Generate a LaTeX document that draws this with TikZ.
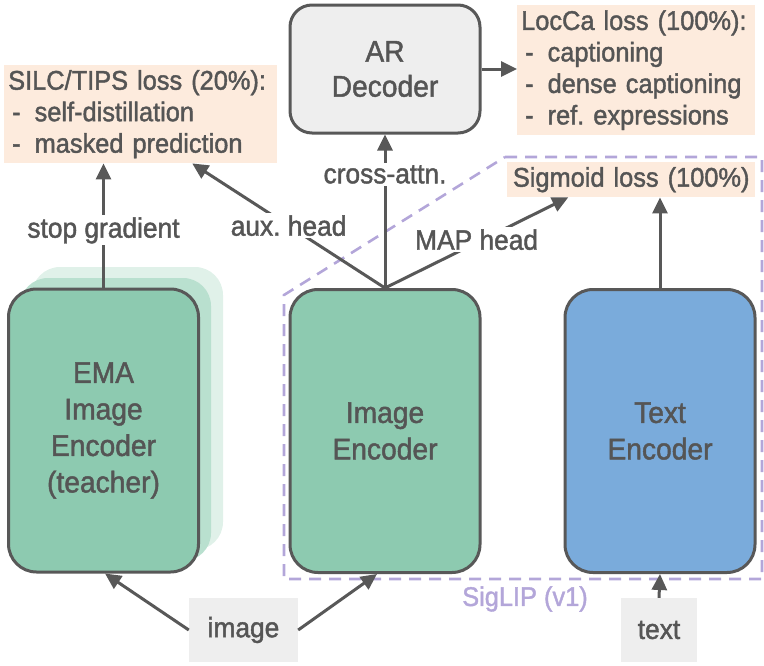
\documentclass[tikz,border=0pt]{standalone}
\usepackage{fontspec}
\setmainfont[FakeBold=1.5,FakeStretch=0.94]{Liberation Sans}
\usetikzlibrary{arrows.meta,calc}
\definecolor{txtgray}{HTML}{555555}
\definecolor{linegray}{HTML}{585858}
\definecolor{encgreen}{HTML}{8DCAB0}
\definecolor{shadeA}{HTML}{B9E0CF}
\definecolor{shadeB}{HTML}{E0F1E9}
\definecolor{encblue}{HTML}{7AABDB}
\definecolor{boxgray}{HTML}{EEEEEE}
\definecolor{peach}{HTML}{FDEBDD}
\definecolor{lav}{HTML}{B3A6D9}
\tikzset{
  encbox/.style={draw=linegray, line width=3pt, rounded corners=28pt, minimum width=190pt, minimum height=283pt, align=center, text=txtgray, font=\fontsize{30}{36.5}\selectfont, inner sep=0pt},
  lossbox/.style={fill=peach, text=txtgray, align=left, inner xsep=4pt, inner ysep=0pt, anchor=north west, font=\fontsize{27}{31.5}\selectfont},
  inbox/.style={fill=boxgray, text=txtgray, font=\fontsize{28}{30}\selectfont, inner sep=0pt},
  lbl/.style={fill=white, text=txtgray, font=\fontsize{28}{30}\selectfont, inner xsep=2pt, inner ysep=2pt},
  arr/.style={draw=linegray, line width=3pt, -{Triangle[length=16pt,width=15pt]}},
}
\begin{document}
\frenchspacing
\begin{tikzpicture}[x=1pt,y=-1pt]
\useasboundingbox (0,0) rectangle (764,665);
% shadow layers of EMA encoder
\fill[shadeB, rounded corners=28pt] (32,267) rectangle (223,550);
\fill[shadeA, rounded corners=28pt] (20,278) rectangle (211,561);
% SigLIP region
\draw[lav, line width=2.6pt, dash pattern=on 12pt off 8pt] (505,157) -- (762,157) -- (762,579) -- (284,579) -- (284,295) -- cycle;
\node[lav, font=\fontsize{27}{30}\selectfont] (siglip) at (525,599) {SigLIP (v1)};
% encoders
\node[encbox, fill=encgreen] (EMA) at (103.5,430.5) {EMA\\Image\\Encoder\\(teacher)};
\node[encbox, fill=encgreen] (ImgEnc) at (385,431) {Image\\Encoder};
\node[encbox, fill=encblue] (TxtEnc) at (660,431) {Text\\Encoder};
% decoder
\node[draw=linegray, line width=3pt, fill=boxgray, rounded corners=22pt, minimum width=190pt, minimum height=128pt, align=center, text=txtgray, font=\fontsize{30}{35}\selectfont, inner sep=0pt] (AR) at (385,69) {AR\\Decoder};
% loss boxes
\node[lossbox, minimum width=273pt, minimum height=98pt, text width=265pt] (SILC) at (4,65) {SILC/TIPS loss (20\%):\\\hspace*{4pt}-\hspace{14pt}self-distillation\\\hspace*{4pt}-\hspace{14pt}masked prediction};
\node[lossbox, minimum width=238pt, minimum height=130pt, text width=230pt] (LocCa) at (517,5) {LocCa loss (100\%):\\\hspace*{4pt}-\hspace{14pt}captioning\\\hspace*{4pt}-\hspace{14pt}dense captioning\\\hspace*{4pt}-\hspace{14pt}ref. expressions};
\node[lossbox, minimum width=248pt, minimum height=35pt, text width=240pt, align=center] (Sigmoid) at (507,162) {Sigmoid loss (100\%)};
% inputs
\node[inbox, minimum width=109pt, minimum height=64pt] (image) at (243.5,630) {image};
\node[inbox, minimum width=76pt, minimum height=64pt] (text) at (659,630) {text};
% connectors
\draw[arr] (EMA.north) -- node[lbl, pos=0.46]{stop gradient} (EMA.north |- SILC.south);
\draw[arr] (ImgEnc.north) -- node[lbl, pos=0.5]{aux. head} ([xshift=51.5pt]SILC.south);
\draw[arr] (ImgEnc.north) -- node[lbl, pos=0.74]{cross-attn.} (AR.south);
\draw[arr] (ImgEnc.north) -- node[lbl, pos=0.5, yshift=3pt]{MAP head} ([xshift=-63pt]Sigmoid.south);
\draw[arr] (TxtEnc.north) -- (TxtEnc.north |- Sigmoid.south);
\draw[arr] (AR.east) -- (AR.east -| LocCa.west);
\draw[arr] (image.west) -- ([xshift=1.5pt]EMA.south);
\draw[arr] (image.east) -- ([xshift=-8pt]ImgEnc.south);
\draw[arr] (text.north) -- (TxtEnc.south);
\end{tikzpicture}
\end{document}
